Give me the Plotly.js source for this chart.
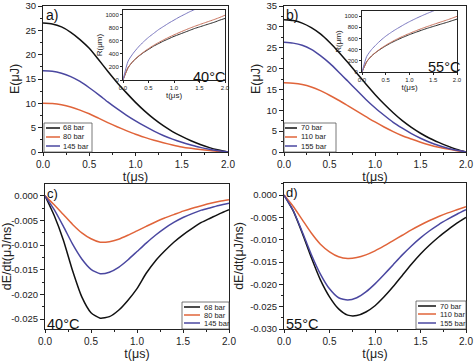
<!DOCTYPE html>
<html><head><meta charset="utf-8">
<script src="https://cdn.plot.ly/plotly-3.0.1.min.js"></script>
<style>html,body{margin:0;padding:0;background:#fff}#c{width:474px;height:361px}</style>
</head><body><div id="c"></div>
<script>
// ---- data ----
const t = [0,0.1,0.2,0.3,0.4,0.5,0.6,0.7,0.8,0.9,1.0,1.1,1.2,1.3,1.4,1.5,1.6,1.7,1.8,1.9,2.0];

// (a) 40°C energy, µJ
const names40 = ['68 bar','80 bar','145 bar'];
const E40_68  = [26.5,26.3,25.7,24.6,23.1,21.3,19.0,16.6,14.3,12.2,10.2,8.4,6.8,5.4,4.2,3.2,2.3,1.55,0.9,0.4,0];
const E40_80  = [10.0,9.95,9.7,9.25,8.6,7.85,6.95,6.05,5.2,4.4,3.65,3.0,2.4,1.9,1.45,1.05,0.75,0.5,0.3,0.12,0];
const E40_145 = [16.7,16.6,16.2,15.5,14.5,13.2,11.8,10.3,8.9,7.6,6.4,5.3,4.3,3.4,2.65,2.0,1.45,0.95,0.55,0.25,0];
// (a) inset radius, µm
const R40_68  = [0,190,290,360,420,470,520,560,600,635,670,700,730,760,790,815,840,865,890,920,945];
const R40_80  = [0,190,292,365,427,482,532,577,618,657,693,728,761,793,823,851,878,905,932,962,995];
const R40_145 = [0,290,410,505,585,655,715,775,825,875,920,965,1005,1045,1080,1115,1150,1185,1220,1250,1285];

// (b) 55°C energy, µJ
const names55 = ['70 bar','110 bar','155 bar'];
const E55_70  = [31.7,31.5,30.9,29.8,28.3,26.3,24.0,21.5,18.9,16.3,13.8,11.5,9.4,7.5,5.9,4.5,3.3,2.3,1.4,0.6,0];
const E55_110 = [16.6,16.5,16.2,15.6,14.7,13.6,12.4,11.1,9.8,8.5,7.2,6.0,4.9,3.9,3.1,2.35,1.7,1.15,0.7,0.3,0];
const E55_155 = [26.3,26.1,25.6,24.6,23.1,21.3,19.2,17.0,14.8,12.6,10.6,8.8,7.1,5.7,4.4,3.3,2.35,1.55,0.9,0.4,0];
// (b) inset radius, µm
const R55_70  = [0,185,285,355,415,467,515,557,597,633,668,700,730,760,788,814,840,865,890,918,945];
const R55_110 = [0,185,287,360,422,478,528,573,615,654,690,725,758,790,820,849,877,905,933,963,995];
const R55_155 = [0,280,400,490,570,640,700,755,805,855,900,942,982,1020,1056,1090,1122,1155,1188,1220,1250];

// (c) 40°C dE/dt, µJ/ns
const D40_68  = [0,-0.0040,-0.0090,-0.0152,-0.0205,-0.0237,-0.0248,-0.0245,-0.0232,-0.0212,-0.0188,-0.0157,-0.0132,-0.0112,-0.0094,-0.0079,-0.0066,-0.0054,-0.0045,-0.0036,-0.0028];
const D40_80  = [0,-0.0018,-0.0038,-0.0058,-0.0075,-0.0087,-0.0094,-0.0093,-0.0088,-0.0080,-0.0071,-0.0062,-0.0053,-0.0045,-0.0038,-0.0031,-0.0025,-0.0020,-0.0015,-0.0011,-0.0008];
const D40_145 = [0,-0.0028,-0.0062,-0.0098,-0.0128,-0.0149,-0.0158,-0.0155,-0.0145,-0.0130,-0.0113,-0.0096,-0.0080,-0.0066,-0.0054,-0.0044,-0.0036,-0.0029,-0.0024,-0.0019,-0.0015];
// (d) 55°C dE/dt, µJ/ns
const D55_70  = [0,-0.0035,-0.0085,-0.0140,-0.0190,-0.0228,-0.0255,-0.0269,-0.0270,-0.0262,-0.0248,-0.0228,-0.0205,-0.0180,-0.0155,-0.0132,-0.0112,-0.0094,-0.0078,-0.0063,-0.0050];
const D55_110 = [0,-0.0025,-0.0055,-0.0085,-0.0110,-0.0127,-0.0138,-0.0142,-0.0140,-0.0134,-0.0125,-0.0114,-0.0102,-0.0090,-0.0078,-0.0067,-0.0057,-0.0048,-0.0040,-0.0033,-0.0026];
const D55_155 = [0,-0.0034,-0.0082,-0.0133,-0.0177,-0.0210,-0.0230,-0.0235,-0.0230,-0.0217,-0.0199,-0.0178,-0.0156,-0.0134,-0.0114,-0.0096,-0.0080,-0.0066,-0.0054,-0.0043,-0.0033];

// tick labels
const tTicks = [0,0.5,1.0,1.5,2.0];
const tTickText = ['0.0','0.5','1.0','1.5','2.0'];
const dTicks40 = [0,-0.005,-0.010,-0.015,-0.020,-0.025];
const dTickText40 = ['0.000','-0.005','-0.010','-0.015','-0.020','-0.025'];
const dTicks55 = [0,-0.005,-0.010,-0.015,-0.020,-0.025,-0.030];
const dTickText55 = ['0.000','-0.005','-0.010','-0.015','-0.020','-0.025','-0.030'];
const rTicks = [0,200,400,600,800,1000];

// ---- styling / layout ----
const W = 474, H = 361;
const PX = x => x / W, PY = y => 1 - y / H;
const COL = {k:'#111111', r:'#e0643a', b:'#4a47a0'};
const INS = {k:'#2a2a2a', r:'#c8735e', b:'#7b78c0'};
const FONT = 'Liberation Sans, Arial, sans-serif';

function line(x, y, color, w, xa, ya, name){
  return {x:x, y:y, type:'scatter', mode:'lines', name:name, showlegend:false,
    xaxis:xa, yaxis:ya, line:{color:color, width:w, shape:'spline', smoothing:0.6}, hoverinfo:'skip'};
}
const traces = [
  line(t,E40_68,COL.k,1.5,'x','y',names40[0]), line(t,E40_80,COL.r,1.5,'x','y',names40[1]), line(t,E40_145,COL.b,1.5,'x','y',names40[2]),
  line(t,R40_68,INS.k,1,'x2','y2',names40[0]), line(t,R40_80,INS.r,1,'x2','y2',names40[1]), line(t,R40_145,INS.b,1,'x2','y2',names40[2]),
  line(t,E55_70,COL.k,1.5,'x3','y3',names55[0]), line(t,E55_110,COL.r,1.5,'x3','y3',names55[1]), line(t,E55_155,COL.b,1.5,'x3','y3',names55[2]),
  line(t,R55_70,INS.k,1,'x4','y4',names55[0]), line(t,R55_110,INS.r,1,'x4','y4',names55[1]), line(t,R55_155,INS.b,1,'x4','y4',names55[2]),
  line(t,D40_68,COL.k,1.5,'x5','y5',names40[0]), line(t,D40_80,COL.r,1.5,'x5','y5',names40[1]), line(t,D40_145,COL.b,1.5,'x5','y5',names40[2]),
  line(t,D55_70,COL.k,1.5,'x6','y6',names55[0]), line(t,D55_110,COL.r,1.5,'x6','y6',names55[1]), line(t,D55_155,COL.b,1.5,'x6','y6',names55[2])
];

function xax(d, anchor, small, standoff){
  return {domain:[PX(d[0]),PX(d[1])], anchor:anchor, range:[0,2], tickvals:tTicks, ticktext:tTickText,
    showline:true, linecolor:'#222', linewidth:1, mirror:true, ticks:'outside', ticklen: small?2:3, tickcolor:'#222',
    ticklabeloverflow:'allow',
    minor: small? undefined : {ticks:'outside', ticklen:2, dtick:0.25, tickcolor:'#222'},
    tickfont:{family:FONT, size: small?6:10, color:'#222'}, showgrid:false, zeroline:false, fixedrange:true,
    title:{text:'t(μs)', font:{family:FONT, size: small?8:12.5, color:'#222'}, standoff: standoff}};
}
function yax(d, anchor, range, extra, small, title){
  const o = {domain:[PY(d[1]),PY(d[0])], anchor:anchor, range:range,
    showline:true, linecolor:'#222', linewidth:1, mirror:true, ticks:'outside', ticklen: small?2:4, tickcolor:'#222',
    ticklabeloverflow:'allow',
    tickfont:{family:FONT, size: small?6:9.5, color:'#222'}, showgrid:false, zeroline:false, fixedrange:true,
    title:{text:title, font:{family:FONT, size: small?8:12.5, color:'#222'}, standoff: small?1:3}};
  return Object.assign(o, extra);
}

const layout = {
  width:W, height:H, margin:{l:0,r:0,t:0,b:0}, paper_bgcolor:'#fff', plot_bgcolor:'rgba(0,0,0,0)',
  showlegend:false, font:{family:FONT, color:'#222'},
  xaxis: xax([43,228],'y',false,0),
  yaxis: yax([6,152],'x',[0,30],{dtick:5, minor:{ticks:'outside',ticklen:2,dtick:2.5,tickcolor:'#222'}},false,'E(μJ)'),
  xaxis2: xax([123,225],'y2',true,1),
  yaxis2: yax([10,80],'x2',[0,1075],{tickvals:rTicks},true,'R(μm)'),
  xaxis3: xax([284,466],'y3',false,0),
  yaxis3: yax([6,152],'x3',[0,35],{dtick:5, minor:{ticks:'outside',ticklen:2,dtick:2.5,tickcolor:'#222'}},false,'E(μJ)'),
  xaxis4: xax([362,457],'y4',true,1),
  yaxis4: yax([11,72],'x4',[0,1090],{tickvals:rTicks},true,'R(μm)'),
  xaxis5: xax([45,229],'y5',false,1),
  yaxis5: yax([184,329],'x5',[-0.027,0.0024],{tickvals:dTicks40, ticktext:dTickText40, minor:{ticks:'outside',ticklen:2,dtick:0.0025,tickcolor:'#222'}},false,'dE/dt(μJ/ns)'),
  xaxis6: xax([284,466],'y6',false,1),
  yaxis6: yax([183,329],'x6',[-0.030,0.0027],{tickvals:dTicks55, ticktext:dTickText55, minor:{ticks:'outside',ticklen:2,dtick:0.0025,tickcolor:'#222'}},false,'dE/dt(μJ/ns)'),
  shapes:[], annotations:[]
};

function ann(text, x, y, size, xa, ya){
  layout.annotations.push({text:text, x:PX(x), y:PY(y), xref:'paper', yref:'paper', xanchor:xa||'left', yanchor:ya||'top',
    showarrow:false, font:{family:FONT, size:size, color:'#111'}});
}
ann('a)',44,5,14); ann('b)',284,5,14); ann('c)',45,184,13); ann('d)',284,183,13);
ann('40°C',227,77,14.5,'right','middle'); ann('55°C',462,67,14.5,'right','middle');
ann('40°C',45,324,14.5,'left','middle'); ann('55°C',284,324,14.5,'left','middle');

// legends (boxes drawn as shapes, entries from the series names)
function legend(box, rows, lx0, lx1, tx, names, cols){
  layout.shapes.push({type:'rect', xref:'paper', yref:'paper', x0:PX(box[0]), x1:PX(box[1]), y0:PY(box[3]), y1:PY(box[2]),
    line:{color:'#555', width:0.8}, fillcolor:'#fff', layer:'above'});
  rows.forEach((ry,i)=>{
    layout.shapes.push({type:'line', xref:'paper', yref:'paper', x0:PX(lx0), x1:PX(lx1), y0:PY(ry), y1:PY(ry),
      line:{color:cols[i], width:1.5}, layer:'above'});
    layout.annotations.push({text:names[i], x:PX(tx), y:PY(ry), xref:'paper', yref:'paper', xanchor:'left', yanchor:'middle',
      showarrow:false, font:{family:FONT, size:7.5, color:'#222'}});
  });
}
legend([44,92,123,152],[128,137,146],46,60,61,names40,[COL.k,COL.r,COL.b]);
legend([284,336,123,152],[128,137,146],285,297,299,names55,[COL.k,COL.r,COL.b]);
legend([182,229,302,329],[307,315,323],184,200,202,names40,[COL.k,COL.r,COL.b]);
legend([416,466,301,329],[306,314,323],418,436,438,names55,[COL.k,COL.r,COL.b]);

Plotly.newPlot('c', traces, layout, {staticPlot:true, displayModeBar:false});
</script></body></html>
